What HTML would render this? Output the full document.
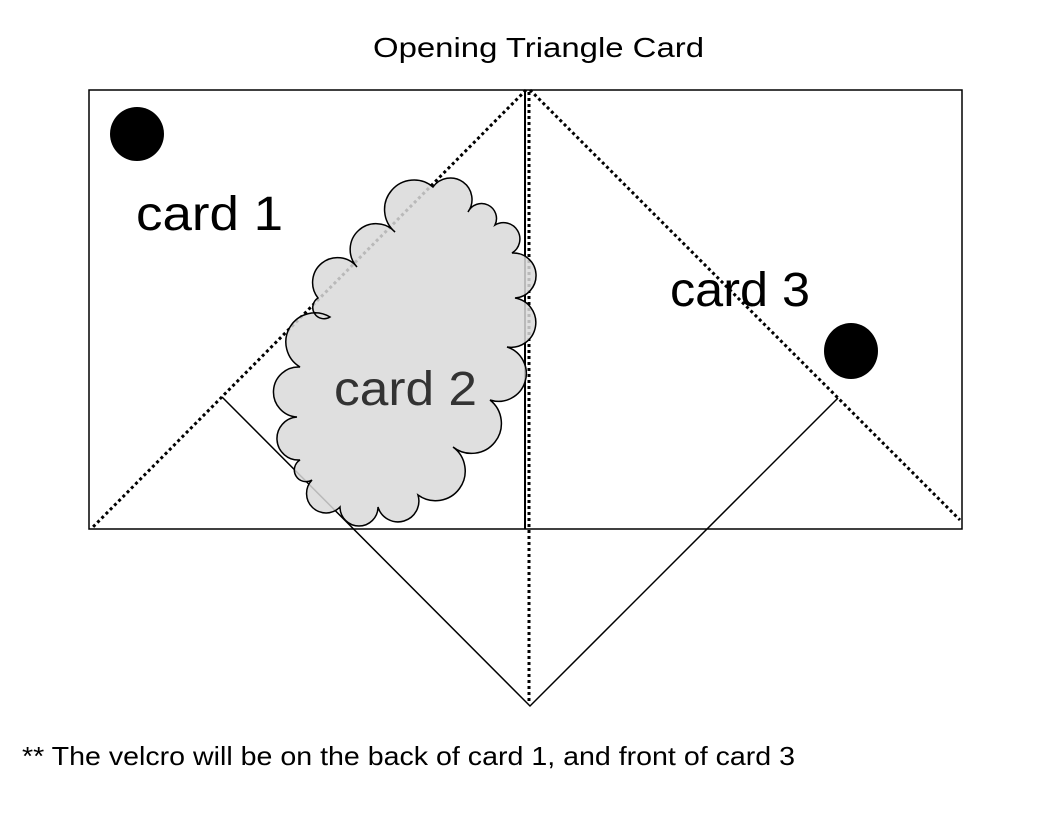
<!DOCTYPE html>
<html><head><meta charset="utf-8"><style>html,body{margin:0;padding:0;background:#fff}svg{display:block}</style></head>
<body>
<svg width="1056" height="816" viewBox="0 0 1056 816" xmlns="http://www.w3.org/2000/svg" font-family="Liberation Sans, Arial, sans-serif">
<rect width="1056" height="816" fill="#fff"/>
<text x="373" y="57" font-size="28" textLength="331" lengthAdjust="spacingAndGlyphs" fill="#000">Opening Triangle Card</text>
<rect x="89" y="90" width="873" height="439" fill="none" stroke="#000" stroke-width="1.5"/>
<line x1="525" y1="90" x2="525" y2="529" stroke="#000" stroke-width="2"/>
<g stroke="#000" stroke-width="3" stroke-dasharray="3,3" fill="none">
<line x1="526" y1="90" x2="93" y2="527"/>
<line x1="530" y1="90" x2="960" y2="520"/>
<line x1="529" y1="92" x2="529" y2="704"/>
</g>
<polyline points="222,397 530,706 838,398" fill="none" stroke="#000" stroke-width="1.5"/>
<ellipse cx="137" cy="134" rx="27" ry="27" fill="#000"/>
<ellipse cx="851" cy="351" rx="27" ry="28" fill="#000"/>
<text x="136" y="230" font-size="48" textLength="147" lengthAdjust="spacingAndGlyphs" fill="#000">card 1</text>
<text x="670" y="306" font-size="48" textLength="140" lengthAdjust="spacingAndGlyphs" fill="#000">card 3</text>
<path fill="#d9d9d9" fill-opacity="0.85" stroke="#000" stroke-width="1.5"
d="M318,298 A1,1 0 0 1 357,267 A1,1 0 0 1 395,232 A1,1 0 0 1 433,187 A1,1 0 0 1 468,212 A1,1 0 0 1 495,225 A1,1 0 0 1 512,253 A1,1 0 0 1 515,298 A1,1 0 0 1 507,347 A1,1 0 0 1 490,400 A1,1 0 0 1 453,447 A1,1 0 0 1 418,495 A1,1 0 0 1 378,507 A1,1 0 0 1 340,507 A1,1 0 0 1 312,480 A1,1 0 0 1 300,460 A1,1 0 0 1 297,417 A1,1 0 0 1 300,367 A1,1 0 0 1 330,317 A1,1 0 0 1 318,298 Z"/>
<text x="334" y="405" font-size="48" textLength="143" lengthAdjust="spacingAndGlyphs" fill="#333">card 2</text>
<text x="22" y="765" font-size="26" textLength="773" lengthAdjust="spacingAndGlyphs" fill="#000">** The velcro will be on the back of card 1, and front of card 3</text>
</svg>
</body></html>
